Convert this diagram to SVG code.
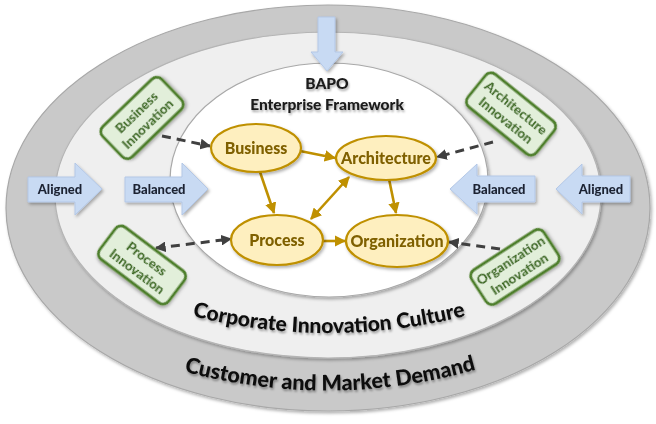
<svg xmlns="http://www.w3.org/2000/svg" width="656" height="424" viewBox="0 0 656 424">
<defs>
<style>
.ring-outer{fill:#c9c9c9;stroke:#a8a8a8;stroke-width:1.2}
.ring-mid{fill:#efefef;stroke:#b5b5b5;stroke-width:1.2}
.ring-inner{fill:#ffffff;stroke:#a9a9a9;stroke-width:1.2}
.node ellipse{fill:#feefbf;stroke:#bf9000;stroke-width:2.2}
.node text{font-family:Lato,"Liberation Sans",sans-serif;font-weight:900;font-size:16px;fill:#7f6000;text-anchor:middle}
.innov rect{fill:#e2efda;stroke:#4e7f2c;stroke-width:2.8}
.innov text{font-family:Lato,"Liberation Sans",sans-serif;font-weight:900;font-size:13.5px;fill:#3d6b22;text-anchor:middle}
.barrow path{fill:#c8daf3;stroke:#b3c7e6;stroke-width:1}
.barrow text{font-family:Lato,"Liberation Sans",sans-serif;font-weight:900;font-size:13px;fill:#1c2333;text-anchor:middle}
.gold{stroke:#bf9000;stroke-width:2.6;fill:none}
.dash{stroke:#404040;stroke-width:3;fill:none;stroke-dasharray:9 6}
.title{font-family:Lato,"Liberation Sans",sans-serif;font-weight:900;font-size:15.5px;fill:#1a1a1a;text-anchor:middle}
.arc{font-family:Lato,"Liberation Sans",sans-serif;font-weight:900;fill:#111111}
</style>
<marker id="mg" viewBox="0 0 10 10" refX="9" refY="5" markerWidth="4.4" markerHeight="4.4" orient="auto-start-reverse" markerUnits="strokeWidth">
<path d="M0,0 L10,5 L0,10 z" fill="#bf9000"/>
</marker>
<marker id="md" viewBox="0 0 10 10" refX="9" refY="5" markerWidth="3.6" markerHeight="3.6" orient="auto-start-reverse" markerUnits="strokeWidth">
<path d="M0,0 L10,5 L0,10 z" fill="#404040"/>
</marker>
<filter id="sh" x="-20%" y="-20%" width="140%" height="140%">
<feDropShadow dx="1.5" dy="2" stdDeviation="1.5" flood-color="#000" flood-opacity="0.3"/>
</filter>
<filter id="tsh" x="-10%" y="-30%" width="120%" height="160%">
<feDropShadow dx="1" dy="2" stdDeviation="1.2" flood-color="#000" flood-opacity="0.35"/>
</filter>
<path id="arc1" d="M 170 310 Q 328 356 488 310"/>
<path id="arc2" d="M 165 366 Q 330 416 495 364"/>
</defs>

<g id="rings">
<ellipse class="ring-outer" cx="328" cy="208" rx="322" ry="203" filter="url(#sh)"/>
<ellipse class="ring-mid" cx="328" cy="195" rx="273" ry="163" filter="url(#sh)"/>
<ellipse class="ring-inner" cx="329" cy="180" rx="159" ry="117" filter="url(#sh)"/>
</g>

<g id="curved-labels" filter="url(#tsh)">
<text class="arc" font-size="21"><textPath href="#arc1" startOffset="50%" text-anchor="middle">Corporate Innovation Culture</textPath></text>
<text class="arc" font-size="21.5"><textPath href="#arc2" startOffset="50%" text-anchor="middle">Customer and Market Demand</textPath></text>
</g>

<g id="framework-title" filter="url(#tsh)">
<text class="title" x="327" y="89">BAPO</text>
<text class="title" x="327" y="110">Enterprise Framework</text>
</g>

<g id="block-arrows">
<g id="arrow-top" class="barrow" filter="url(#sh)">
<path d="M318,17 L335,17 L335,52 L343,52 L327,71 L311,52 L318,52 Z"/>
</g>
<g id="arrow-aligned-left" class="barrow" filter="url(#sh)">
<path d="M28,177 L75,177 L75,163 L102,189 L75,215 L75,202 L28,202 Z"/>
<text x="60" y="194">Aligned</text>
</g>
<g id="arrow-balanced-left" class="barrow" filter="url(#sh)">
<path d="M125,177 L182,177 L182,163 L208,189 L182,215 L182,202 L125,202 Z"/>
<text x="159" y="194">Balanced</text>
</g>
<g id="arrow-balanced-right" class="barrow" filter="url(#sh)">
<path d="M535,176 L477,176 L477,164 L450,189 L477,214 L477,202 L535,202 Z"/>
<text x="499" y="194">Balanced</text>
</g>
<g id="arrow-aligned-right" class="barrow" filter="url(#sh)">
<path d="M630,176 L582,176 L582,164 L556,189 L582,214 L582,202 L630,202 Z"/>
<text x="601" y="194">Aligned</text>
</g>
</g>

<g id="connectors">
<line class="gold" x1="300" y1="151" x2="335" y2="158" marker-end="url(#mg)"/>
<line class="gold" x1="260" y1="172" x2="274" y2="213" marker-end="url(#mg)"/>
<line class="gold" x1="311" y1="219" x2="349" y2="177" marker-start="url(#mg)" marker-end="url(#mg)"/>
<line class="gold" x1="389" y1="179" x2="396" y2="213" marker-end="url(#mg)"/>
<line class="gold" x1="323" y1="241" x2="345" y2="241" marker-end="url(#mg)"/>
<line class="dash" x1="162" y1="136" x2="210" y2="146" marker-end="url(#md)"/>
<line class="dash" x1="493" y1="142" x2="437" y2="157" marker-end="url(#md)"/>
<line class="dash" x1="156" y1="248" x2="231" y2="239" marker-start="url(#md)" marker-end="url(#md)"/>
<line class="dash" x1="500" y1="249" x2="449" y2="242" marker-end="url(#md)"/>
</g>

<g id="innovations">
<g id="business-innovation" class="innov" transform="translate(142,118) rotate(-44)" filter="url(#sh)">
<rect x="-41" y="-21" width="82" height="42" rx="7"/>
<text x="0" y="-3">Business</text>
<text x="0" y="13">Innovation</text>
</g>
<g id="architecture-innovation" class="innov" transform="translate(511,114) rotate(39)" filter="url(#sh)">
<rect x="-44" y="-21" width="88" height="42" rx="7"/>
<text x="0" y="-3">Architecture</text>
<text x="0" y="13">Innovation</text>
</g>
<g id="process-innovation" class="innov" transform="translate(142,265) rotate(37)" filter="url(#sh)">
<rect x="-43" y="-20" width="86" height="40" rx="7"/>
<text x="0" y="-3">Process</text>
<text x="0" y="13">Innovation</text>
</g>
<g id="organization-innovation" class="innov" transform="translate(515,267) rotate(-33)" filter="url(#sh)">
<rect x="-43" y="-20" width="86" height="40" rx="7"/>
<text x="0" y="-3">Organization</text>
<text x="0" y="13">Innovation</text>
</g>
</g>

<g id="nodes">
<g id="node-business" class="node" filter="url(#sh)">
<ellipse cx="256" cy="148" rx="45" ry="24"/>
<text x="256" y="153.5">Business</text>
</g>
<g id="node-architecture" class="node" filter="url(#sh)">
<ellipse cx="386" cy="158" rx="50" ry="22"/>
<text x="386" y="163.5">Architecture</text>
</g>
<g id="node-process" class="node" filter="url(#sh)">
<ellipse cx="277" cy="240" rx="46" ry="25"/>
<text x="277" y="245.5">Process</text>
</g>
<g id="node-organization" class="node" filter="url(#sh)">
<ellipse cx="397" cy="241" rx="51" ry="26"/>
<text x="397" y="246.5">Organization</text>
</g>
</g>
</svg>
